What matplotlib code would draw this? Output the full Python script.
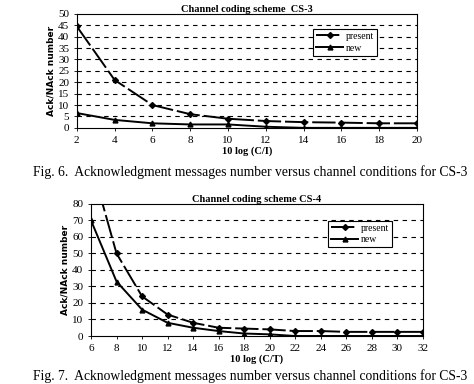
import matplotlib.pyplot as plt

# CS-3 data
x_cs3 = [2, 4, 6, 8, 10, 12, 14, 16, 18, 20]
present_cs3 = [44.5, 21, 10, 6, 4, 3, 2.5, 2.3, 2, 2]
new_cs3 = [6.5, 3.5, 2, 1.5, 1.5, 0.5, 0, 0, 0, 0]

# CS-4 data
x_cs4 = [6, 8, 10, 12, 14, 16, 18, 20, 22, 24, 26, 28, 30, 32]
present_cs4 = [105, 50, 24, 13, 8, 5, 4.5, 4, 3, 3, 2.5, 2.5, 2.5, 2.5]
new_cs4 = [70, 33, 16, 8, 5, 3, 1.5, 1, 0, 0, 0, 0, 0, 0]

plt.rcParams['font.family'] = ['Liberation Serif', 'DejaVu Serif']

fig = plt.figure(figsize=(4.74, 3.84), dpi=100)


def panel(ax, x, pres, new, yticks, title, xlabel, legend_pos):
    ax.plot(x, pres, color='black', lw=1.4, dashes=(12, 2), marker='D', ms=3, label='present')
    ax.plot(x, new, color='black', lw=1.4, marker='^', ms=3.5, label='new')
    ax.set_xlim(x[0], x[-1])
    ax.set_xticks(x)
    ax.set_ylim(yticks[0], yticks[-1])
    ax.set_yticks(yticks)
    for y in yticks[1:-1]:
        ax.axhline(y, color='black', lw=0.8, ls=(0, (4, 4)), zorder=0)
    ax.tick_params(labelsize=8, length=2, width=0.6)
    for s in ax.spines.values():
        s.set_linewidth(0.8)
    ax.set_title(title, fontsize=7.5, pad=1, fontweight='bold')
    ax.set_xlabel(xlabel, fontsize=7.5, labelpad=1, fontweight='bold')
    ax.set_ylabel('Ack/NAck number', fontsize=6.5, fontfamily='DejaVu Sans',
                  fontweight='bold', labelpad=2)
    leg = ax.legend(loc='upper left', bbox_to_anchor=legend_pos, fontsize=7,
                    frameon=True, fancybox=False, edgecolor='black',
                    framealpha=1, handlelength=2.8, borderpad=0.3,
                    labelspacing=0.3, handletextpad=0.3)
    leg.get_frame().set_linewidth(0.8)


ax1 = fig.add_axes([0.162, 0.667, 0.718, 0.297])
panel(ax1, x_cs3, present_cs3, new_cs3, list(range(0, 51, 5)),
      'Channel coding scheme  CS-3', '10 log (C/I)', (0.68, 0.91))

ax2 = fig.add_axes([0.192, 0.125, 0.700, 0.344])
panel(ax2, x_cs4, present_cs4, new_cs4, list(range(0, 81, 10)),
      'Channel coding scheme CS-4', '10 log (C/T)', (0.70, 0.91))

fig.text(0.07, 1 - 172 / 384, 'Fig. 6.  Acknowledgment messages number versus channel conditions for CS-3',
         fontsize=9.8, va='center')
fig.text(0.07, 1 - 376 / 384, 'Fig. 7.  Acknowledgment messages number versus channel conditions for CS-3',
         fontsize=9.8, va='center')

fig.savefig('out.png', dpi=100)
